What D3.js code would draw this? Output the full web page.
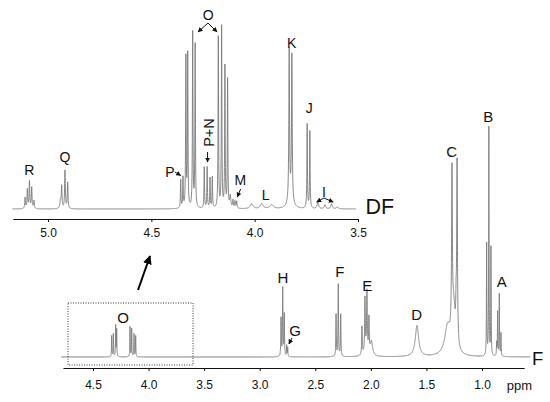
<!DOCTYPE html>
<html>
<head>
<meta charset="utf-8">
<script src="https://cdnjs.cloudflare.com/ajax/libs/d3/7.8.5/d3.min.js"></script>
<style>
  body { margin: 0; background: #fff; }
  text { font-family: Arial, "Liberation Sans", sans-serif; fill: #111; }
</style>
</head>
<body>
<div id="chart"></div>
<script>
// peak lists: [ppm, height, half width (ppm)]
var mainPeaks = [
  [4.332, 21, .002], [4.317, 23, .002], [4.296, 31, .002], [4.287, 27, .002],
  [4.167, 30, .002], [4.152, 28, .002], [4.131, 23, .002], [4.116, 21, .002],
  [2.808, 38, .0025], [2.793, 68, .0025], [2.779, 42, .0025],
  [2.757, 11, .002], [2.748, 9, .002],
  [2.313, 42, .0025], [2.293, 72, .0025], [2.271, 42, .0025],
  [2.080, 28, .003], [2.053, 52, .003], [2.035, 56, .003], [2.017, 33, .003],
  [1.995, 14, .012], [2.040, 9, .02],
  [1.585, 31, .018],
  [1.270, 156, .004], [1.224, 181, .004], [1.233, 25, .003],
  [1.255, 45, .018], [1.310, 28, .03],
  [0.958, 112, .002], [0.938, 228, .002], [0.919, 108, .002],
  [0.868, 13, .002], [0.859, 44, .002], [0.844, 62, .002], [0.829, 23, .002]
];

var insetPeaks = [
  [5.111, 11, .002], [5.100, 19, .002], [5.090, 27, .002], [5.079, 21, .002], [5.068, 8, .002],
  [4.940, 8, .003], [4.934, 22, .002], [4.918, 38, .002], [4.905, 26, .002],
  [4.358, 28, .0015], [4.347, 30, .0015],
  [4.333, 150, .0015], [4.324, 153, .0015], [4.300, 175, .0015], [4.288, 163, .0015],
  [4.244, 41, .0015], [4.230, 41, .0015], [4.216, 30, .0015], [4.205, 31, .0015],
  [4.176, 171, .0015], [4.160, 181, .0015], [4.144, 141, .0015], [4.131, 128, .0015],
  [4.118, 12, .003],
  [4.105, 8, .002], [4.095, 7, .002], [4.087, 7, .002],
  [4.015, 5, .008], [3.966, 5, .008], [3.918, 4, .01],
  [3.833, 150, .002], [3.820, 145, .002], [3.827, 10, .012],
  [3.746, 84, .0015], [3.733, 77, .0015],
  [3.694, 7, .004], [3.660, 4, .004], [3.628, 5, .004], [3.600, 2, .005]
];

var mainTicks = [4.5, 4.0, 3.5, 3.0, 2.5, 2.0, 1.5, 1.0];
var insetTicks = [5.0, 4.5, 4.0, 3.5];

// labels: [text, ppm, height of text baseline]
var mainLabels = [
  ["O", 4.230, 34], ["H", 2.790, 74], ["G", 2.682, 21], ["F", 2.278, 80],
  ["E", 2.032, 66], ["D", 1.588, 37], ["C", 1.273, 200], ["B", 0.943, 235],
  ["A", 0.823, 70]
];
var insetLabels = [
  ["R", 5.091, 34], ["Q", 4.918, 47], ["P", 4.410, 32], ["O", 4.225, 189],
  ["M", 4.070, 24], ["L", 3.947, 9], ["K", 3.821, 161], ["J", 3.736, 96],
  ["I", 3.665, 12]
];
// small pointer arrows: [ppm from, height from, ppm to, height to]
var mainArrows = [[2.710, 19, 2.737, 13]];
var insetArrows = [
  [4.386, 37, 4.358, 33.5],
  [4.228, 57, 4.228, 47],
  [4.226, 186, 4.274, 177], [4.226, 186, 4.182, 177],
  [4.068, 20, 4.084, 12],
  [3.665, 11, 3.700, 7], [3.665, 11, 3.620, 7]
];

var svgWidth = 550, svgHeight = 402;

var svg = d3.select("#chart").append("svg")
  .attr("width", svgWidth)
  .attr("height", svgHeight);

var defs = svg.append("defs");
defs.append("marker")
  .attr("id", "tip")
  .attr("viewBox", "0 0 10 10")
  .attr("refX", 9).attr("refY", 5)
  .attr("markerWidth", 5).attr("markerHeight", 5)
  .attr("markerUnits", "userSpaceOnUse")
  .attr("orient", "auto")
  .append("path").attr("d", "M0,0 L10,5 L0,10 z").attr("fill", "#111");
defs.append("marker")
  .attr("id", "bigtip")
  .attr("viewBox", "0 0 10 10")
  .attr("refX", 9).attr("refY", 5)
  .attr("markerWidth", 9).attr("markerHeight", 9)
  .attr("markerUnits", "userSpaceOnUse")
  .attr("orient", "auto")
  .append("path").attr("d", "M0,0 L10,5 L0,10 z").attr("fill", "#000");

// lorentzian sum sampled along the ppm range
function spectrum(peaks, from, to, step) {
  var pts = d3.range(from, to, -step);
  peaks.forEach(function(p) { if (p[0] < from && p[0] > to) pts.push(p[0]); });
  pts.sort(function(a, b) { return b - a; });
  return pts.map(function(x) {
    var v = 0;
    peaks.forEach(function(p) {
      var w2 = p[2] * p[2];
      v += p[1] * w2 / ((x - p[0]) * (x - p[0]) + w2);
    });
    return {ppm: x, v: v};
  });
}

function drawPanel(cfg) {
  var g = svg.append("g");
  var x = d3.scaleLinear().domain(cfg.xDomain).range(cfg.xRange);
  var y = d3.scaleLinear().domain([0, cfg.yTop]).range([cfg.base, cfg.base - cfg.yTop]);

  var axis = d3.axisBottom(x)
    .tickValues(cfg.ticks)
    .tickFormat(d3.format(".1f"))
    .tickSize(3)
    .tickSizeOuter(0)
    .tickPadding(cfg.pad);

  var ax = g.append("g")
    .attr("transform", `translate(0, ${cfg.axisY})`)
    .call(axis);
  ax.select(".domain").attr("stroke", "#111");
  ax.selectAll(".tick line").attr("stroke", "#111");
  ax.selectAll(".tick text")
    .attr("font-size", cfg.tickFont + "px")
    .attr("font-family", "Arial, 'Liberation Sans', sans-serif")
    .attr("fill", "#111");

  var data = spectrum(cfg.peaks, cfg.span[0], cfg.span[1], 0.0005);
  var line = d3.line()
    .x(function(d) { return x(d.ppm); })
    .y(function(d) { return y(d.v); });

  g.append("path")
    .datum(data)
    .attr("fill", "none")
    .attr("stroke", "#7a7a7a")
    .attr("stroke-width", 0.9)
    .attr("d", line);

  g.selectAll(".peaklabel")
    .data(cfg.labels)
    .enter()
    .append("text")
    .attr("class", "peaklabel")
    .attr("x", function(d) { return x(d[1]); })
    .attr("y", function(d) { return y(d[2]); })
    .attr("text-anchor", "middle")
    .attr("font-size", cfg.labelFont + "px")
    .text(function(d) { return d[0]; });

  g.selectAll(".pointer")
    .data(cfg.arrows)
    .enter()
    .append("line")
    .attr("class", "pointer")
    .attr("x1", function(d) { return x(d[0]); })
    .attr("y1", function(d) { return y(d[1]); })
    .attr("x2", function(d) { return x(d[2]); })
    .attr("y2", function(d) { return y(d[3]); })
    .attr("stroke", "#111")
    .attr("stroke-width", 1)
    .attr("marker-end", "url(#tip)");

  return {x: x, y: y, g: g};
}

// main spectrum (F)
var main = drawPanel({
  xDomain: [4.77, 0.62], xRange: [63, 524.2],
  base: 357, yTop: 240, axisY: 368, pad: 9.5,
  ticks: mainTicks, tickFont: 12, labelFont: 15,
  peaks: mainPeaks, span: [4.785, 0.565],
  labels: mainLabels, arrows: mainArrows
});

// expanded region (DF)
var inset = drawPanel({
  xDomain: [5.17, 3.5], xRange: [12.9, 358],
  base: 209, yTop: 200, axisY: 219, pad: 6,
  ticks: insetTicks, tickFont: 12, labelFont: 14,
  peaks: insetPeaks, span: [5.172, 3.51],
  labels: insetLabels, arrows: insetArrows
});

// P+N written vertically
inset.g.append("text")
  .attr("transform", `translate(${inset.x(4.221) + 5}, ${inset.y(76.5)}) rotate(-90)`)
  .attr("text-anchor", "middle")
  .attr("font-size", "14.5px")
  .text("P+N");

// dotted box marking the expanded region
main.g.append("rect")
  .attr("x", main.x(4.725))
  .attr("y", main.y(54))
  .attr("width", main.x(3.60) - main.x(4.725))
  .attr("height", main.y(-8) - main.y(54))
  .attr("fill", "none")
  .attr("stroke", "#333")
  .attr("stroke-width", 1)
  .attr("stroke-dasharray", "1,1.5");

// arrow towards the inset
main.g.append("line")
  .attr("x1", main.x(4.095)).attr("y1", main.y(67))
  .attr("x2", main.x(3.987)).attr("y2", main.y(101))
  .attr("stroke", "#000")
  .attr("stroke-width", 2)
  .attr("marker-end", "url(#bigtip)");

// sample names and unit
main.g.append("text")
  .attr("x", 532).attr("y", 364.5)
  .attr("font-size", "18.5px")
  .text("F");

inset.g.append("text")
  .attr("x", 365.5).attr("y", 214)
  .attr("font-size", "21.5px")
  .text("DF");

main.g.append("text")
  .attr("x", 519.5).attr("y", 389.5)
  .attr("text-anchor", "middle")
  .attr("font-size", "13px")
  .text("ppm");
</script>
</body>
</html>
